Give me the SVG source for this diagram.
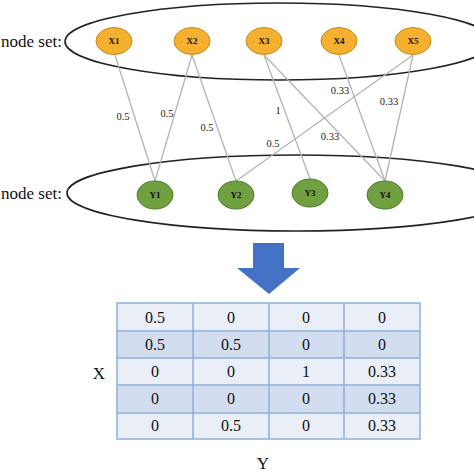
<svg xmlns="http://www.w3.org/2000/svg" width="474" height="474" viewBox="0 0 474 474">
<style>
.set{fill:none;stroke:#222;stroke-width:1.6}
.xn{fill:#F4B02E;stroke:#C48A1C;stroke-width:1}
.yn{fill:#70A040;stroke:#4F7A2A;stroke-width:1}
.nt{font-family:"Liberation Serif",serif;font-size:9px;font-weight:bold;fill:#111;text-anchor:middle}
.el{stroke:#b4b4b4;stroke-width:1.3;fill:none}
.wl{font-family:"Liberation Serif",serif;font-size:10.5px;fill:#222;text-anchor:middle}
.lab{font-family:"Liberation Serif",serif;font-size:17px;fill:#111}
.c1{fill:#E9EEF7}
.c2{fill:#D2DEEF}
.grid{stroke:#8FB0DA;stroke-width:1.5;fill:none}
.tt{font-family:"Liberation Serif",serif;font-size:16px;fill:#111;text-anchor:middle}
</style>
<rect width="474" height="474" fill="#fff"/>
<ellipse class="set" cx="279" cy="41.5" rx="214" ry="38.5"/>
<ellipse class="set" cx="296" cy="193" rx="229" ry="38"/>
<text class="lab" x="1" y="47">node set:</text>
<text class="lab" x="1" y="199">node set:</text>
<g id="connectors">
<line class="el" x1="115" y1="55" x2="155" y2="181"/>
<line class="el" x1="192" y1="55" x2="155" y2="181"/>
<line class="el" x1="192" y1="55" x2="236" y2="181"/>
<line class="el" x1="264" y1="55" x2="310" y2="179"/>
<line class="el" x1="264" y1="55" x2="385" y2="181"/>
<line class="el" x1="339" y1="55" x2="385" y2="181"/>
<line class="el" x1="413" y1="55" x2="236" y2="181"/>
<line class="el" x1="413" y1="55" x2="385" y2="181"/>
<text class="wl" x="123" y="120">0.5</text>
<text class="wl" x="167" y="117">0.5</text>
<text class="wl" x="207" y="131">0.5</text>
<text class="wl" x="278" y="114">1</text>
<text class="wl" x="340" y="94">0.33</text>
<text class="wl" x="389" y="105">0.33</text>
<text class="wl" x="330" y="140">0.33</text>
<text class="wl" x="273" y="147">0.5</text>
</g>
<g id="X1"><ellipse class="xn" cx="114" cy="41" rx="18" ry="13.5"/><text class="nt" x="114" y="44">X1</text></g>
<g id="X2"><ellipse class="xn" cx="192" cy="41" rx="18" ry="13.5"/><text class="nt" x="192" y="44">X2</text></g>
<g id="X3"><ellipse class="xn" cx="264" cy="41" rx="18" ry="13.5"/><text class="nt" x="264" y="44">X3</text></g>
<g id="X4"><ellipse class="xn" cx="339" cy="41" rx="18" ry="13.5"/><text class="nt" x="339" y="44">X4</text></g>
<g id="X5"><ellipse class="xn" cx="413" cy="41" rx="18" ry="13.5"/><text class="nt" x="413" y="44">X5</text></g>
<g id="Y1"><ellipse class="yn" cx="155" cy="195" rx="18" ry="14"/><text class="nt" x="155" y="198">Y1</text></g>
<g id="Y2"><ellipse class="yn" cx="236" cy="195" rx="18" ry="14"/><text class="nt" x="236" y="198">Y2</text></g>
<g id="Y3"><ellipse class="yn" cx="310" cy="193" rx="18" ry="14"/><text class="nt" x="310" y="196">Y3</text></g>
<g id="Y4"><ellipse class="yn" cx="385" cy="195" rx="18" ry="14"/><text class="nt" x="385" y="198">Y4</text></g>
<g id="arrow"><polygon points="253,243 284,243 284,268 300,268 269,294 237,268 253,268" fill="#4472C4"/></g>
<g id="matrix">
<rect class="c1" x="117" y="303" width="303" height="28"/>
<rect class="c2" x="117" y="331" width="303" height="27"/>
<rect class="c1" x="117" y="358" width="303" height="27"/>
<rect class="c2" x="117" y="385" width="303" height="28"/>
<rect class="c1" x="117" y="413" width="303" height="26"/>
<rect class="grid" x="117" y="303" width="303" height="136"/>
<path class="grid" d="M193 303V439M269 303V439M344 303V439M117 331H420M117 358H420M117 385H420M117 413H420"/>
<text class="tt" x="155" y="323">0.5</text><text class="tt" x="231" y="323">0</text><text class="tt" x="306" y="323">0</text><text class="tt" x="382" y="323">0</text>
<text class="tt" x="155" y="350">0.5</text><text class="tt" x="231" y="350">0.5</text><text class="tt" x="306" y="350">0</text><text class="tt" x="382" y="350">0</text>
<text class="tt" x="155" y="377">0</text><text class="tt" x="231" y="377">0</text><text class="tt" x="306" y="377">1</text><text class="tt" x="382" y="377">0.33</text>
<text class="tt" x="155" y="404">0</text><text class="tt" x="231" y="404">0</text><text class="tt" x="306" y="404">0</text><text class="tt" x="382" y="404">0.33</text>
<text class="tt" x="155" y="431">0</text><text class="tt" x="231" y="431">0.5</text><text class="tt" x="306" y="431">0</text><text class="tt" x="382" y="431">0.33</text>
<text class="lab" x="99" y="379" text-anchor="middle">X</text>
<text class="lab" x="263" y="469" text-anchor="middle">Y</text>
</g>
</svg>
